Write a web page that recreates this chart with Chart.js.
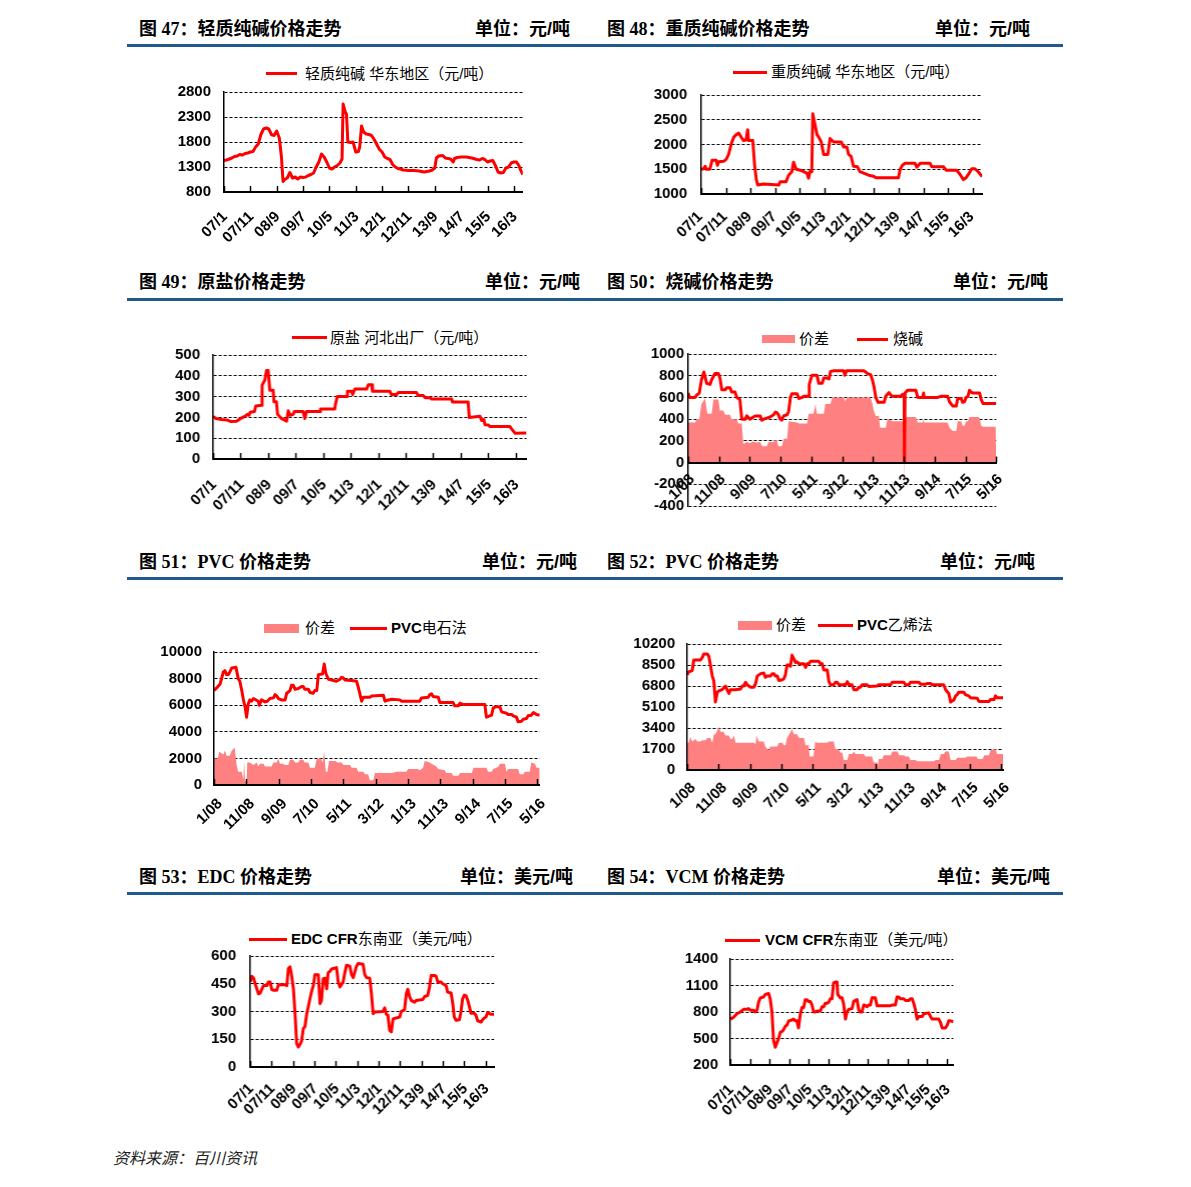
<!DOCTYPE html>
<html><head><meta charset="utf-8">
<script src="https://cdn.jsdelivr.net/npm/chart.js@4.4.1/dist/chart.umd.min.js"></script>
<style>
html,body{margin:0;padding:0;background:#fff;}
#page{position:relative;width:1191px;height:1187px;overflow:hidden;background:#fff;}
.t{position:absolute;font-weight:bold;font-size:18px;line-height:20px;white-space:nowrap;color:#000;font-family:"Liberation Serif","Noto Sans CJK SC",serif;}
.u{position:absolute;font-weight:bold;font-size:18px;line-height:20px;white-space:nowrap;color:#000;font-family:"Liberation Sans","Noto Sans CJK SC",sans-serif;}
.rule{position:absolute;left:127px;width:936px;height:3px;background:#1F5A8C;}
.lg{position:absolute;font-size:15px;line-height:20px;white-space:nowrap;color:#000;font-family:"Liberation Sans","Noto Sans CJK SC",sans-serif;}
.lg b{font-family:"Liberation Sans",Arial,sans-serif;}
.ln{position:absolute;height:3px;background:#FF0000;}
.sw{position:absolute;background:#FF8080;}
canvas{position:absolute;}
.src{position:absolute;left:113px;top:1147px;font-size:16px;line-height:20px;font-style:italic;color:#222;font-family:"Noto Sans CJK SC",sans-serif;white-space:nowrap;}
</style></head>
<body><div id="page">
<div class="t" style="left:139px;top:19px">图 47：轻质纯碱价格走势</div>
<div class="u" style="right:621px;top:19px">单位：元/吨</div>
<div class="t" style="left:607px;top:19px">图 48：重质纯碱价格走势</div>
<div class="u" style="right:161px;top:19px">单位：元/吨</div>
<div class="rule" style="top:44px"></div>

<div class="t" style="left:139px;top:272px">图 49：原盐价格走势</div>
<div class="u" style="right:611px;top:272px">单位：元/吨</div>
<div class="t" style="left:607px;top:272px">图 50：烧碱价格走势</div>
<div class="u" style="right:143px;top:272px">单位：元/吨</div>
<div class="rule" style="top:298px"></div>

<div class="t" style="left:139px;top:552px">图 51：PVC 价格走势</div>
<div class="u" style="right:614px;top:552px">单位：元/吨</div>
<div class="t" style="left:607px;top:552px">图 52：PVC 价格走势</div>
<div class="u" style="right:156px;top:552px">单位：元/吨</div>
<div class="rule" style="top:577px"></div>

<div class="t" style="left:139px;top:867px">图 53：EDC 价格走势</div>
<div class="u" style="right:618px;top:867px">单位：美元/吨</div>
<div class="t" style="left:607px;top:867px">图 54：VCM 价格走势</div>
<div class="u" style="right:141px;top:867px">单位：美元/吨</div>
<div class="rule" style="top:892px"></div>

<!-- legends -->
<div class="ln" style="left:266px;top:72px;width:31px"></div>
<div class="lg" style="left:305px;top:64px">轻质纯碱 华东地区（元/吨）</div>
<div class="ln" style="left:733px;top:71px;width:34px"></div>
<div class="lg" style="left:771px;top:62px">重质纯碱 华东地区（元/吨）</div>
<div class="ln" style="left:292px;top:336px;width:35px"></div>
<div class="lg" style="left:330px;top:328px">原盐 河北出厂（元/吨）</div>
<div class="sw" style="left:762px;top:335px;width:33px;height:8px"></div>
<div class="lg" style="left:799px;top:329px">价差</div>
<div class="ln" style="left:857px;top:338px;width:31px"></div>
<div class="lg" style="left:893px;top:329px">烧碱</div>
<div class="sw" style="left:264px;top:624px;width:35px;height:9px"></div>
<div class="lg" style="left:305px;top:618px">价差</div>
<div class="ln" style="left:350px;top:627px;width:37px"></div>
<div class="lg" style="left:391px;top:618px"><b>PVC</b>电石法</div>
<div class="sw" style="left:738px;top:621px;width:34px;height:9px"></div>
<div class="lg" style="left:776px;top:615px">价差</div>
<div class="ln" style="left:818px;top:624px;width:35px"></div>
<div class="lg" style="left:857px;top:615px"><b>PVC</b>乙烯法</div>
<div class="ln" style="left:249px;top:938px;width:38px"></div>
<div class="lg" style="left:291px;top:929px"><b>EDC CFR</b>东南亚（美元/吨）</div>
<div class="ln" style="left:725px;top:939px;width:35px"></div>
<div class="lg" style="left:765px;top:930px"><b>VCM CFR</b>东南亚（美元/吨）</div>

<div class="src">资料来源：百川资讯</div>
</div>
<script>
// ---------- tick labels ----------
const xLabels07 = ['07/1','07/11','08/9','09/7','10/5','11/3','12/1','12/11','13/9','14/7','15/5','16/3'];
const xLabels08 = ['1/08','11/08','9/09','7/10','5/11','3/12','1/13','11/13','9/14','7/15','5/16'];

// ---------- data: [month index, value] ----------
const c47Light = [[0,1430],[1,1440],[2,1460],[3,1480],[4,1510],[5,1520],[6,1550],[7,1540],[8,1570],[9,1580],[10,1600],[11,1610],[12,1700],[13,1760],[14,1950],[15,2060],[16,2080],[17,2060],[18,1950],[19,1930],[20,2020],[21,1880],[21.8,1500],[22.4,1010],[23,1050],[24,1080],[25,1190],[26,1080],[27,1100],[28,1060],[29,1100],[30,1090],[31,1100],[32,1130],[33,1150],[34,1180],[35,1300],[36,1400],[37,1560],[38,1500],[39,1400],[40,1280],[41,1260],[42,1300],[43,1330],[44,1380],[44.8,1460],[45.2,2560],[46,2400],[46.5,2350],[47,1800],[48,1790],[49,1800],[50,1600],[51,1610],[51.5,1700],[52.2,2120],[53,2000],[54,1960],[55,1950],[56,1930],[57,1850],[58,1750],[59,1650],[60,1600],[61,1500],[62,1470],[63,1450],[64,1350],[65,1300],[66,1270],[67,1260],[68,1240],[70,1230],[72,1230],[74,1220],[76,1200],[78,1220],[79,1240],[80,1280],[80.6,1480],[81.5,1520],[83,1530],[84,1480],[85,1470],[86,1460],[87,1400],[87.5,1470],[88.5,1490],[90,1500],[92,1500],[94,1480],[96,1450],[97,1440],[98,1470],[99,1450],[100,1400],[101,1420],[102,1430],[103,1330],[104,1200],[105,1180],[106,1190],[107,1280],[108,1300],[109,1380],[110,1400],[111,1400],[112,1320],[112.5,1250],[113.4,1150]];

const c48Heavy = [[0,1500],[1,1510],[1.6,1560],[2,1500],[3.5,1500],[4.4,1680],[6.1,1680],[6.6,1580],[7.1,1650],[9.1,1660],[10.1,1700],[11.1,1800],[12.1,2000],[13.2,2150],[14.2,2200],[15.2,2230],[16.2,2150],[17.2,2080],[18.2,2090],[18.8,2300],[19.2,2080],[20.9,2080],[21.6,1600],[22.3,1300],[22.9,1180],[25.3,1200],[28.3,1190],[31.4,1180],[32,1250],[34.4,1250],[35.4,1380],[36.7,1450],[37.4,1640],[38.5,1500],[40.1,1480],[41.5,1450],[42.8,1420],[43.5,1320],[44.1,1460],[44.8,1450],[45.2,2620],[46.1,2400],[46.9,2200],[47.6,2150],[48.6,2050],[49.6,1800],[51.3,1800],[52.2,2120],[53.6,2050],[56.7,2050],[57.7,1950],[59,1950],[59.7,1800],[60.7,1760],[61.7,1560],[63.3,1550],[64.3,1450],[65.8,1420],[67.8,1380],[69.8,1360],[70.8,1330],[79.9,1330],[80.6,1500],[81.5,1580],[82.6,1620],[86.6,1620],[87.3,1540],[88.7,1620],[92.7,1620],[93.4,1550],[98.2,1550],[99.2,1480],[103.5,1480],[104.8,1400],[106.2,1290],[107.3,1330],[108.3,1400],[109.6,1510],[110.9,1510],[112.2,1450],[113.8,1350]];

const c49Salt = [[0,205],[1,195],[3,190],[5,188],[6.5,180],[8.5,182],[10,195],[11.5,205],[12.5,215],[13,210],[13.5,225],[15,228],[15.5,255],[17.5,258],[17.8,355],[18.8,380],[19.4,425],[20,425],[20.6,330],[21.8,330],[22.1,275],[23,275],[23.4,215],[24.8,195],[26.7,182],[27.3,232],[28,210],[29.1,215],[29.5,228],[32.7,228],[33.3,195],[33.9,228],[38.8,228],[39,240],[44.2,240],[44.5,265],[45.1,300],[48.5,300],[48.8,326],[50.3,326],[50.7,310],[51.5,336],[55.8,336],[56.4,357],[57.6,357],[57.9,326],[64.2,326],[64.8,310],[66.7,310],[67.3,320],[73.9,320],[74.5,305],[76.4,305],[77,295],[78.8,295],[79.4,288],[86.7,288],[87,274],[92.7,274],[93.1,199],[97,205],[97.6,185],[98.4,190],[98.8,165],[100,164],[100.6,156],[107.9,156],[108.5,145],[109.7,124],[113.9,125]];

const c50Caustic = [[0,640],[0.5,600],[2.2,600],[2.7,620],[3.6,640],[4.3,760],[5.1,835],[6,730],[7.1,720],[7.6,760],[8.7,820],[9.8,820],[10.3,780],[10.9,670],[12,670],[12.5,690],[13.6,690],[14.1,650],[15.2,650],[15.8,600],[16.8,580],[17.4,400],[18.5,400],[19,430],[20,400],[21.2,420],[21.7,430],[23.4,430],[23.9,390],[24.5,400],[25.5,410],[26.6,420],[27.7,440],[28.3,465],[28.8,460],[29.3,440],[29.9,400],[30.4,390],[31,430],[32.1,440],[32.6,470],[33.2,600],[33.7,635],[35.3,635],[35.9,590],[37,600],[37.5,610],[39.1,610],[39.3,720],[40.2,805],[41.8,805],[42.4,730],[43.5,730],[44,780],[45.1,780],[45.7,770],[46.2,840],[47.3,845],[50.5,845],[50.8,805],[51.4,845],[57.1,845],[58.2,820],[59.2,810],[59.8,760],[60.3,700],[60.9,600],[61.6,555],[63.6,555],[64.1,610],[65.2,645],[65.8,620],[66.3,610],[69,610],[69.6,630],[70.1,630],[70.2,0],[70.4,640],[71.2,665],[73.9,665],[74.5,600],[76.1,600],[76.4,640],[76.6,600],[81,600],[82,610],[84.2,610],[84.8,560],[85.9,520],[87,520],[87.5,590],[88.6,590],[89.1,555],[89.7,560],[90.2,600],[90.8,610],[91.3,665],[91.8,650],[92.4,640],[94.6,640],[95.1,580],[95.7,545],[100,545]];
const c50Spread = [[0,370],[2.2,370],[2.7,400],[3.6,400],[4.3,540],[5.5,590],[6.2,450],[7.6,450],[8.2,580],[9.8,580],[10.3,480],[11.4,480],[12,440],[13.6,440],[14.1,400],[15.8,400],[16.3,360],[17.4,360],[17.9,170],[19,190],[20,180],[21,195],[22,185],[23.4,190],[24,150],[25.5,150],[26.1,190],[27.7,190],[28.3,210],[28.8,205],[29.3,150],[30.4,150],[31,220],[32.1,220],[32.6,380],[35.3,370],[35.9,360],[38.6,360],[39.1,450],[40.7,450],[41.3,540],[41.8,450],[44,450],[44.5,540],[46.2,540],[46.7,600],[50.5,600],[51,560],[51.4,600],[59.2,600],[59.8,540],[60.3,470],[60.9,430],[61.9,430],[62.3,320],[64.1,320],[64.7,400],[65.8,390],[66.3,380],[70,380],[70.2,-240],[70.4,380],[70.7,420],[73.9,420],[74.5,370],[76.1,370],[76.4,400],[76.6,370],[84.2,370],[84.8,320],[85.9,290],[87,290],[87.5,380],[88.6,380],[89.1,340],[89.7,340],[90.2,380],[90.8,380],[91.3,420],[94,420],[94.6,410],[95.1,340],[95.7,330],[99.8,330],[100,0]];

const c51Pvc = [[0,7100],[0.8,7300],[1.9,7600],[2.9,8500],[3.4,8600],[3.9,8300],[4.4,8300],[4.9,8500],[5.5,8800],[6.8,8850],[7,8600],[7.5,8000],[8,7800],[8.6,7100],[9.1,6400],[9.6,5900],[10.1,5100],[10.6,6100],[11.1,6400],[11.6,6300],[12.2,6500],[13.7,6300],[14,6000],[14.7,6400],[15.8,6250],[16.5,6300],[17.3,6500],[18.4,6550],[18.9,6800],[19.4,6700],[19.9,6500],[20.9,6400],[22,6400],[22.5,6900],[23.5,7100],[24,7500],[24.5,7500],[25.1,7200],[26.1,7250],[27.1,7400],[27.6,7400],[28.1,7200],[29.2,7200],[29.7,6950],[30.7,6900],[31.2,7100],[31.8,7100],[32.3,8300],[33.6,8350],[34.1,9100],[34.6,8400],[35.4,7950],[37.9,7800],[39,7950],[39.5,8100],[40,8050],[40.5,7900],[42.6,7850],[44.1,7800],[44.6,7400],[45.2,6800],[45.7,6300],[46.2,6600],[48.2,6600],[48.8,6700],[52.4,6750],[52.9,6300],[53.4,6350],[55,6450],[57.5,6400],[58,6300],[63.7,6300],[64.2,6550],[66.3,6600],[66.8,6800],[67.3,6850],[67.8,6650],[69.4,6600],[69.9,6200],[74,6200],[74.5,5950],[75.6,5950],[76.1,6150],[76.6,6100],[77.1,6050],[83.8,6050],[84.3,5100],[85.9,5250],[86.4,5800],[87.4,5900],[88.5,5850],[89,5500],[90.5,5400],[91,5300],[92.1,5300],[92.6,5200],[93.6,5100],[94.1,4750],[95.2,4800],[95.7,4950],[96.7,5000],[97.2,5200],[98.2,5250],[98.8,5450],[99.8,5300],[100.8,5250]];
const c51Spread = [[0,2000],[1.2,2000],[1.6,2500],[2.9,2300],[3.4,2600],[3.9,2200],[4.9,2200],[5.5,2600],[6.4,2800],[7,1500],[7.5,1000],[8.6,1000],[9.1,400],[9.3,1800],[9.6,300],[10.1,300],[10.3,1700],[11.1,1700],[12.2,1500],[13.2,1700],[13.7,1400],[14.2,1600],[15.3,1600],[15.8,1400],[17.8,1400],[18.4,1700],[19.4,1700],[19.9,2000],[20.4,1600],[21.4,1600],[22,1500],[23,1500],[23.5,1900],[24.5,1900],[25.1,1700],[26.1,1700],[26.6,1900],[27.6,1900],[28.1,1700],[29.2,1700],[29.7,1300],[31.2,1300],[31.8,2000],[33.1,2000],[33.6,1700],[34.1,2500],[34.6,1000],[35.1,1000],[35.6,1800],[37.6,1800],[38.1,1700],[39.5,1700],[40,1500],[42.1,1500],[42.6,1300],[44.1,1300],[44.6,1000],[46.2,1000],[46.7,800],[47.7,800],[48.2,350],[49.3,350],[49.8,900],[55.1,900],[56.5,1000],[59.5,1000],[60.1,1200],[63.1,1200],[63.7,1100],[64.7,1300],[65.2,1800],[66.8,1700],[67.3,1600],[68.8,1400],[69.4,1200],[71.4,1100],[71.9,900],[73.5,900],[74,700],[75.6,700],[76.1,900],[79.8,900],[80.3,1300],[84.3,1300],[84.8,1000],[85.9,1000],[86.4,1200],[87.4,1300],[88,1400],[88.5,1600],[90,1600],[90.5,1000],[91,1200],[94.1,1200],[94.6,800],[95.7,800],[96.2,1000],[97.7,1000],[98.2,1700],[99.3,1600],[99.8,1300],[100.8,1300]];

const c52Pvc = [[0,7700],[0.5,7950],[1.6,8050],[2.1,8900],[4.2,8900],[4.8,9100],[5.3,9400],[6.4,9400],[6.9,9200],[7.4,8500],[8,7600],[8.5,7200],[9,5500],[9.6,6300],[10.1,6400],[11.1,6500],[12.2,6800],[12.7,6500],[13.3,6200],[13.8,6500],[15.4,6500],[17,6550],[17.5,6800],[18,6800],[18.6,7100],[19.1,6900],[20.2,6700],[21.2,6700],[21.8,7000],[22.3,7600],[23.4,7800],[24.4,7850],[24.9,7500],[25.5,7600],[26.5,7600],[27.1,7800],[27.6,7800],[28.1,7600],[28.7,7600],[29.2,7250],[30.3,7300],[30.8,7400],[31.3,7700],[31.8,8500],[32.4,8500],[32.9,8400],[33.4,9300],[34,9000],[34.5,8700],[35,8750],[35.6,8600],[37.2,8600],[37.7,8300],[38.2,8600],[38.7,8600],[39.3,8800],[41.9,8800],[42.5,8600],[43,8600],[43.5,8100],[44.6,8100],[45.1,7200],[45.6,6900],[46.7,6900],[47.2,7100],[47.8,7100],[48.3,6900],[50.4,6900],[51,7150],[51.5,6900],[52.5,6900],[53.1,6500],[54.1,6500],[54.7,6700],[55.2,6700],[55.7,6900],[57.3,6900],[57.9,6750],[60.5,6800],[61,6900],[64.8,6900],[65.3,7100],[69,7100],[69.5,6900],[70.6,6900],[71.1,7100],[73.8,7100],[74.3,6950],[75.9,6950],[76.4,7000],[77.5,7000],[78,6900],[81.7,6900],[82.3,6500],[83.3,6200],[83.9,5500],[84.4,5600],[84.9,5650],[85.5,6000],[86,6100],[86.5,6300],[88.1,6300],[88.6,6100],[89.7,6000],[90.2,5850],[92.4,5800],[92.9,5550],[96.1,5550],[96.6,5700],[97.7,5700],[98.2,6000],[98.7,5850],[100.6,5850]];
const c52Spread = [[0,2200],[0.5,2200],[1,2700],[1.6,2300],[2.7,2500],[3.2,2300],[4.2,2300],[4.8,2400],[5.8,2400],[6.4,2600],[7.4,2600],[8,2200],[8.5,2900],[9,2900],[9.6,3200],[10.1,3500],[10.6,3100],[11.6,3100],[12.2,2800],[13.3,2800],[13.8,2500],[14.3,2500],[14.9,2800],[15.4,2200],[21.2,2200],[21.8,2100],[22.1,2800],[22.8,2300],[24.4,2300],[24.9,1900],[25.9,1600],[26.5,1900],[28.7,1900],[29.2,2200],[30.3,2200],[30.8,2000],[31.3,2000],[31.8,2600],[33.4,3300],[34,2900],[35,2900],[35.6,2600],[37.2,2600],[37.7,2000],[38.7,2000],[39,1100],[40.2,1100],[40.8,2300],[41.3,2200],[44.6,2200],[45.1,2300],[46.7,2300],[47.2,1700],[48.3,1700],[48.8,1400],[49.4,1400],[49.9,800],[51,800],[51.5,1300],[52.5,1300],[53.1,1500],[53.6,1300],[56.2,1300],[56.8,1100],[58.9,1100],[59.4,600],[60.5,600],[60.7,300],[61,900],[62.1,900],[62.6,1200],[64.8,1200],[65.3,1500],[67,1500],[67.5,1200],[69,1200],[69.5,1100],[70.6,1100],[71.1,800],[72.7,800],[73.3,700],[78.6,700],[79.1,800],[80.2,800],[80.8,1300],[81.7,1300],[82.3,1500],[83.3,1500],[83.9,800],[85.5,800],[86,1000],[88.6,1000],[89.1,1100],[92.1,1100],[92.6,900],[94.1,900],[94.6,1200],[96.1,1200],[96.6,1600],[98.2,1700],[98.7,1300],[100.6,1300]];

const c53Edc = [[0,460],[0.8,490],[1.6,480],[2.3,450],[3.9,395],[4.7,400],[5.4,420],[6.2,440],[7.8,440],[8.5,460],[9.3,460],[10.1,418],[10.9,415],[12.4,415],[13.2,445],[16.3,445],[17.1,440],[17.8,532],[18.6,541],[19.4,490],[20.2,420],[20.9,297],[21.7,126],[22.5,108],[23.6,130],[24,140],[24.8,207],[25.6,220],[26.4,288],[27.9,369],[28.7,410],[29.5,441],[30.2,499],[31.8,499],[32.6,342],[33.3,360],[34.1,477],[34.9,480],[35.7,423],[36.4,510],[37.2,517],[38,530],[40.3,537],[41.1,460],[41.9,432],[43.4,460],[44.2,510],[45,550],[46.5,545],[47.3,500],[48.1,483],[49.6,544],[50.4,559],[52.7,555],[53.5,500],[54.3,483],[55.8,480],[56.6,396],[57.4,288],[58.1,297],[62,300],[62.8,320],[63.6,285],[64.3,280],[65.1,198],[65.9,190],[66.7,260],[69.8,270],[70.5,300],[72.1,310],[72.9,396],[73.6,420],[74.4,380],[75.2,360],[76.7,350],[77.5,360],[80.6,365],[81.4,380],[82.9,387],[83.7,430],[84.5,495],[86,495],[86.8,490],[87.6,459],[89.1,459],[89.9,450],[91.5,440],[92.2,405],[93.8,400],[94.6,342],[95.3,270],[96.1,252],[97.7,255],[98.4,297],[99.2,370],[100,389],[100.8,385],[101.6,360],[102.3,330],[103.1,290],[104.7,290],[105.4,280],[106.2,250],[107.8,243],[108.5,255],[109.3,265],[110.1,270],[110.9,295],[111.6,290],[112.4,285],[113.9,285]];

const c54Vcm = [[0,720],[1.7,740],[3.4,780],[5.1,800],[6.8,830],[8.5,830],[9.3,840],[10.2,820],[11.9,820],[12.7,800],[13.6,820],[14.4,910],[15.3,960],[16.9,970],[17.8,1000],[19.5,1010],[20.3,950],[21.2,800],[22,480],[22.9,400],[23.7,450],[24.6,500],[25.4,570],[26.3,580],[27.1,600],[28,640],[28.8,650],[29.7,700],[31.4,710],[32.2,720],[33.1,700],[33.9,700],[34.7,620],[35.6,780],[36.4,850],[37.3,850],[38.1,940],[39,940],[39.8,920],[40.7,920],[41.5,880],[42.4,800],[43.2,800],[44.1,810],[45.8,810],[46.6,860],[47.5,860],[48.3,900],[49.2,900],[50,910],[50.8,950],[51.7,950],[52.5,1130],[53.4,1140],[54.2,1140],[54.6,1000],[55.9,960],[56.8,960],[57.6,890],[58.5,720],[59.3,800],[60.2,830],[61.9,840],[62.7,920],[64.4,940],[65.3,820],[66.1,800],[66.9,800],[67.8,880],[69.5,860],[70.3,880],[71.2,880],[72,960],[73.7,960],[74.6,870],[76.3,870],[81.4,870],[82.2,880],[83.9,880],[84.7,970],[85.6,970],[86.4,950],[88.1,950],[89,930],[90.7,930],[91.5,950],[92.4,950],[93.2,900],[94.1,820],[94.9,720],[95.8,750],[97.5,750],[98.3,780],[100.8,790],[101.7,750],[102.5,720],[105.9,720],[106.8,680],[107.6,620],[109.3,620],[110.2,650],[111,700],[111.9,700],[113.4,690]];

// ---------- layout / style ----------
const YW = 70, PT = 4, PR = 14, XH = 70;
const tickFont = { family: '"Liberation Sans", Arial, sans-serif', size: 15, weight: 'bold' };
const page = document.getElementById('page');

const innerTicks = {
  id: 'innerTicks',
  afterDatasetsDraw(chart, args, opts) {
    const xs = chart.scales.x, ys = chart.scales.y, ctx = chart.ctx;
    const base = opts.atZero ? ys.getPixelForValue(0) : chart.chartArea.bottom;
    ctx.save();
    ctx.strokeStyle = '#000';
    ctx.lineWidth = 1.5;
    xs.ticks.forEach(t => {
      const px = Math.round(xs.getPixelForValue(t.value)) + 0.5;
      ctx.beginPath(); ctx.moveTo(px, base); ctx.lineTo(px, base - opts.len); ctx.stroke();
    });
    ctx.restore();
  }
};

function makeConfig(spec, xh, pb) {
  const datasets = spec.series.map(s => ({
    label: s.label,
    data: s.data.map(p => ({ x: p[0], y: p[1] })),
    borderColor: s.area ? 'rgba(0,0,0,0)' : '#FF0000',
    backgroundColor: '#FF8080',
    borderWidth: s.area ? 0 : 3,
    fill: s.area ? 'origin' : false,
    pointRadius: 0, pointHoverRadius: 0, tension: 0,
    borderJoinStyle: 'round',
    order: s.area ? 2 : 1
  }));
  const xScale = {
    type: 'linear', min: 0, max: spec.xMax,
    grid: { drawOnChartArea: false, drawTicks: false },
    border: { display: true, color: '#000', width: 2, z: 1 },
    afterBuildTicks: ax => { ax.ticks = spec.xLabels.map((l, i) => ({ value: i * 10 })); },
    afterFit: s => { s.height = xh; },
    ticks: { autoSkip: false, maxRotation: 45, minRotation: 45, padding: spec.xPad, labelOffset: spec.xOff,
             color: '#000', font: tickFont, callback: (v, i) => spec.xLabels[i] }
  };
  if (spec.atZero) xScale.position = { y: 0 };
  return {
    type: 'line',
    data: { datasets },
    plugins: [innerTicks],
    options: {
      responsive: false, maintainAspectRatio: false, animation: false, devicePixelRatio: 1,
      layout: { padding: { left: 0, top: PT, right: PR, bottom: pb } },
      plugins: { legend: { display: false }, tooltip: { enabled: false }, innerTicks: { len: 6, atZero: !!spec.atZero } },
      scales: {
        x: xScale,
        y: {
          type: 'linear', min: spec.yMin, max: spec.yMax,
          afterFit: s => { s.width = YW; },
          grid: { color: '#000', lineWidth: 1, drawTicks: false },
          border: { display: true, color: '#000', width: 1.5, dash: [3, 2], z: 1 },
          ticks: { stepSize: spec.yStep, autoSkip: false, padding: spec.yPad, color: '#000', font: tickFont,
                   callback: v => String(v) }
        }
      }
    }
  };
}

function build(spec) {
  const r = spec.rect;
  const xh = spec.atZero ? 0 : XH;
  const pb = spec.atZero ? 10 : 0;
  const tw = r.r - r.l, th = r.b - r.t;
  let w = tw + YW + PR, h = th + PT + xh + pb + 10;
  const cv = document.createElement('canvas');
  cv.width = w; cv.height = h;
  cv.style.width = w + 'px'; cv.style.height = h + 'px';
  page.appendChild(cv);
  // first pass: measure how the library lays out the plot area
  let chart = new Chart(cv, makeConfig(spec, xh, pb));
  let ca = chart.chartArea;
  const w2 = w + (tw - (ca.right - ca.left));
  const h2 = h + (th - (ca.bottom - ca.top));
  chart.destroy();
  cv.width = w2; cv.height = h2;
  cv.style.width = w2 + 'px'; cv.style.height = h2 + 'px';
  chart = new Chart(cv, makeConfig(spec, xh, pb));
  ca = chart.chartArea;
  cv.style.left = (r.l - ca.left) + 'px';
  cv.style.top = (r.t - ca.top) + 'px';
}

build({ rect: { l: 224, t: 92, r: 523, b: 192 }, xMax: 113.4, xLabels: xLabels07, xPad: 16, xOff: 1,
        yMin: 800, yMax: 2800, yStep: 500, yPad: 13, series: [{ label: '轻质纯碱 华东地区（元/吨）', data: c47Light }] });
build({ rect: { l: 701, t: 95, r: 982, b: 194 }, xMax: 113.8, xLabels: xLabels07, xPad: 14, xOff: -1,
        yMin: 1000, yMax: 3000, yStep: 500, yPad: 14, series: [{ label: '重质纯碱 华东地区（元/吨）', data: c48Heavy }] });
build({ rect: { l: 213, t: 355, r: 526, b: 459 }, xMax: 113.9, xLabels: xLabels07, xPad: 17, xOff: 1,
        yMin: 0, yMax: 500, yStep: 100, yPad: 13, series: [{ label: '原盐 河北出厂（元/吨）', data: c49Salt }] });
build({ rect: { l: 688, t: 354, r: 996, b: 506 }, xMax: 100, xLabels: xLabels08, xPad: 8, xOff: 4, atZero: true,
        yMin: -400, yMax: 1000, yStep: 200, yPad: 4,
        series: [{ label: '烧碱', data: c50Caustic }, { label: '价差', data: c50Spread, area: true }] });
build({ rect: { l: 214, t: 652, r: 540, b: 785 }, xMax: 100.8, xLabels: xLabels08, xPad: 10, xOff: 6,
        yMin: 0, yMax: 10000, yStep: 2000, yPad: 12,
        series: [{ label: 'PVC电石法', data: c51Pvc }, { label: '价差', data: c51Spread, area: true }] });
build({ rect: { l: 687, t: 644, r: 1003, b: 770 }, xMax: 100.6, xLabels: xLabels08, xPad: 9, xOff: 6,
        yMin: 0, yMax: 10200, yStep: 1700, yPad: 12,
        series: [{ label: 'PVC乙烯法', data: c52Pvc }, { label: '价差', data: c52Spread, area: true }] });
build({ rect: { l: 250, t: 956, r: 494, b: 1067 }, xMax: 113.9, xLabels: xLabels07, xPad: 13, xOff: 1,
        yMin: 0, yMax: 600, yStep: 150, yPad: 14, series: [{ label: 'EDC CFR东南亚（美元/吨）', data: c53Edc }] });
build({ rect: { l: 730, t: 959, r: 953, b: 1065 }, xMax: 113.35, xLabels: xLabels07, xPad: 16, xOff: 1,
        yMin: 200, yMax: 1400, yStep: 300, yPad: 12, series: [{ label: 'VCM CFR东南亚（美元/吨）', data: c54Vcm }] });
</script>
</body></html>
